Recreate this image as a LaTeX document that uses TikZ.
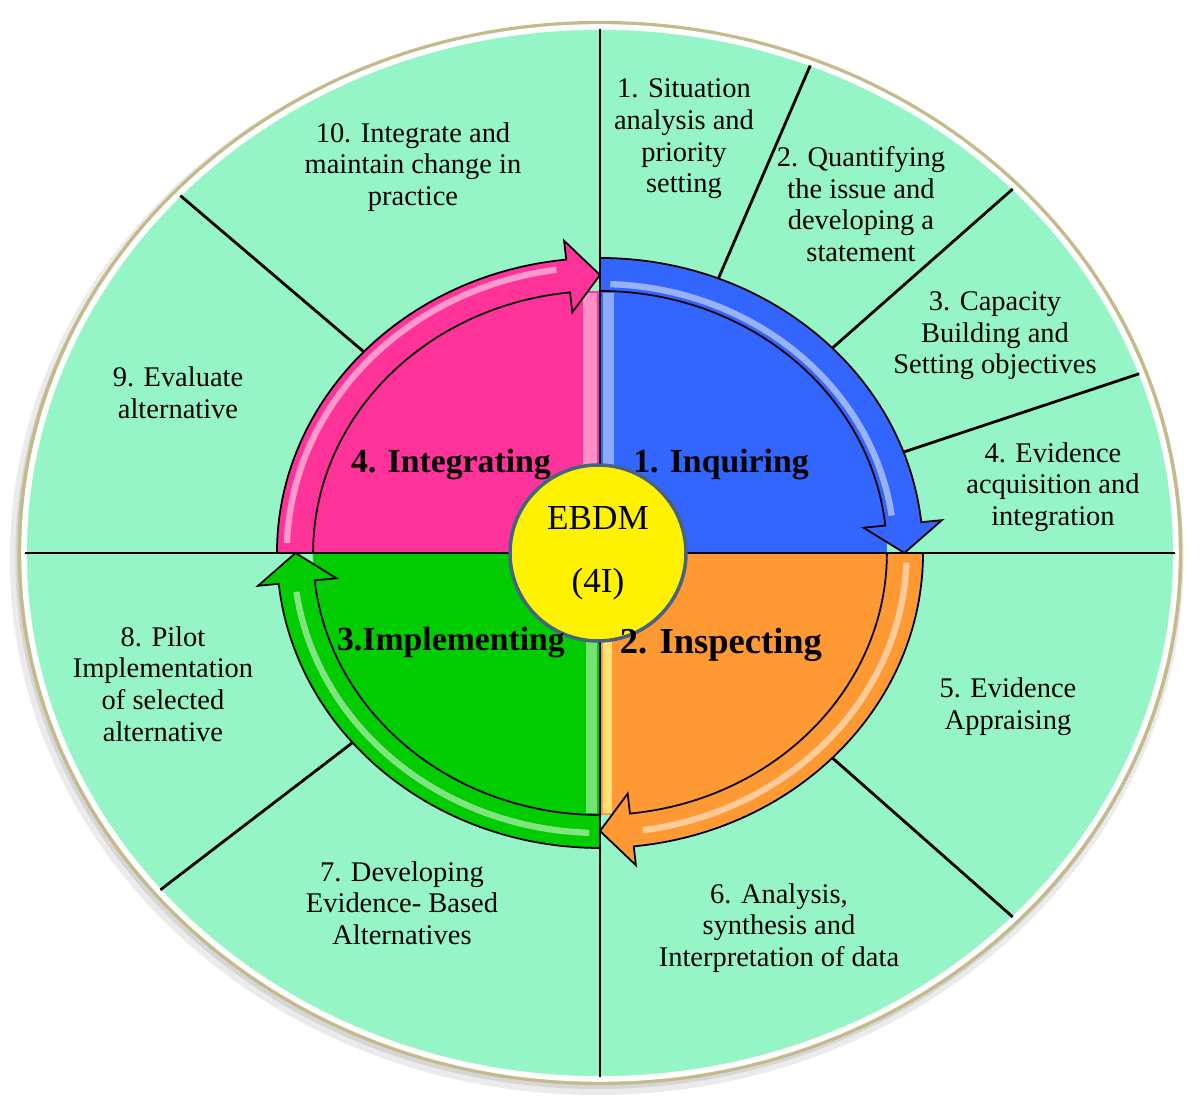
\documentclass[tikz,border=0pt]{standalone}
\usepackage{fontspec}
\setmainfont{Liberation Serif}
\definecolor{mint}{RGB}{150,245,199}
\definecolor{rim}{RGB}{196,186,140}
\definecolor{pinkq}{RGB}{255,51,153}
\definecolor{blueq}{RGB}{51,102,255}
\definecolor{orangeq}{RGB}{255,153,51}
\definecolor{greenq}{RGB}{0,204,0}
\definecolor{coreline}{RGB}{70,100,130}
\begin{document}
\begin{tikzpicture}
[thick, color=black,
 itemtxt/.style={align=center, font=\fontsize{8.1}{9}\selectfont},
 phasetxt/.style={font=\fontsize{9.6}{11}\selectfont\bfseries}]
%[scale=0.01, every node/.style={draw}]
  \useasboundingbox (-6,-5.45) rectangle (6,5.53);
  \begin{scope}[xscale=1.095]
  % outer disc
  \fill[black!8] (-0.03,-0.06) circle (5.36);
  \fill[black!16] (-0.02,-0.04) circle (5.32);
  \fill[mint] (0,0) circle (5.3);
  \draw[rim, line width=1.2pt] (0,0) circle (5.3);
  \draw[white, line width=1.6pt] (0,0) circle (5.26);
  % quarters
  \foreach \s/\c in {90/pinkq,0/blueq,-90/orangeq,180/greenq}
  \fill[\c] (0,0) -- (\s:2.62) arc[start angle=\s, end angle=\s+90, radius=2.62] -- cycle;
  \fill[pinkq!55!white] (-0.155,0) rectangle (-0.03,2.6);
  \fill[blueq!55!white] (0.03,0) rectangle (0.13,2.6);
  \fill[orangeq!50!yellow!60!white] (0.03,0) rectangle (0.11,-2.6);
  \fill[greenq!55!white] (-0.13,0) rectangle (-0.03,-2.6);
  % dividers
  \draw (0,-5.24) -- (0,5.24);
  \draw (-5.25,0) -- (5.25,0);
  \foreach \a in {68.5,44,20,-44,220,137}
  \draw (\a:2.9) -- (\a:5.24);
  % arrows
  \foreach \s/\c/\r in {180/pinkq/2.86,90/blueq/2.69,0/orangeq/2.80,-90/greenq/2.80}{
  \filldraw[fill=\c, draw=black, line width=0.5pt]
    (\s:2.62) arc[start angle=\s, end angle=\s-84, radius=2.62]
    -- (\s-84:2.42) -- (\s-90:2.78) -- (\s-84:3.14) -- (\s-84:2.95)
    arc[start angle=\s-84, end angle=\s, radius=2.95] -- cycle;
  \draw[\c!50!white, line width=1.8pt] (\s-2:\r) arc[start angle=\s-2, end angle=\s-82, radius=\r];
  }
  \end{scope}
  % centre
  \node[circle, fill=yellow, draw=coreline, line width=1pt, minimum size=1.76cm,
    inner sep=0pt, align=center, font=\fontsize{10}{12}\selectfont] (core) at (-0.02,0) {EBDM\\[6pt](4I)};
  % phases
  \node[phasetxt] (q4) at (-1.49,0.88) {4. Integrating};
  \node[phasetxt] (q1) at (1.21,0.88) {1. Inquiring};
  \node[phasetxt] (q3) at (-1.49,-0.90) {3.Implementing};
  \node[phasetxt, font=\fontsize{10.4}{12}\selectfont\bfseries] (q2) at (1.21,-0.92) {2. Inspecting};
  % steps
  \node[itemtxt] (s1) at (0.84,4.14) {1. Situation\\analysis and\\priority\\setting};
  \node[itemtxt] (s2) at (2.61,3.49) {2. Quantifying\\the issue and\\developing a\\statement};
  \node[itemtxt] (s3) at (3.95,2.17) {3. Capacity\\Building and\\Setting objectives};
  \node[itemtxt] (s4) at (4.53,0.66) {4. Evidence\\acquisition and\\integration};
  \node[itemtxt] (s5) at (4.08,-1.54) {5. Evidence\\Appraising};
  \node[itemtxt] (s6) at (1.79,-3.75) {6. Analysis,\\synthesis and\\Interpretation of data};
  \node[itemtxt] (s7) at (-1.98,-3.50) {7. Developing\\Evidence- Based\\Alternatives};
  \node[itemtxt] (s8) at (-4.37,-1.31) {8. Pilot\\Implementation\\of selected\\alternative};
  \node[itemtxt] (s9) at (-4.22,1.60) {9. Evaluate\\alternative};
  \node[itemtxt] (s10) at (-1.87,3.86) {10. Integrate and\\maintain change in\\practice};
\end{tikzpicture}
\end{document}
